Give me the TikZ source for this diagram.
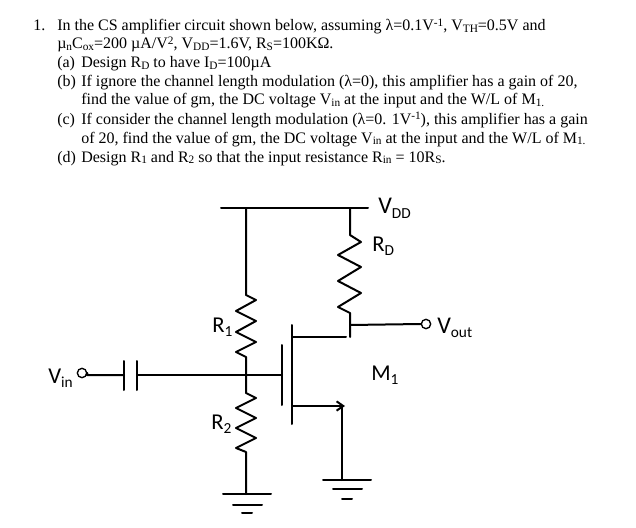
\documentclass[tikz,border=0pt]{standalone}
\usepackage{fontspec}
\setmainfont{Liberation Serif}
\newfontfamily\calib{Carlito}
\usetikzlibrary{arrows.meta}
\newcommand{\sbb}[1]{\raisebox{-1pt}{\fontsize{8.5}{8.5}\selectfont #1}}
\newcommand{\spp}[1]{\raisebox{3.6pt}{\fontsize{8.5}{8.5}\selectfont #1}}
\newcommand{\lbl}[2]{{\calib\fontsize{#1}{#1}\selectfont #2}}
\newcommand{\csb}[1]{\raisebox{-3.4pt}{\fontsize{11.5}{11.5}\selectfont #1}}
\tikzset{
  txt/.style={anchor=base west,inner sep=0pt,font=\fontsize{12}{14}\selectfont},
  clab/.style={anchor=base west,inner sep=0pt},
  wire/.style={line width=1.5pt,line cap=round,line join=round},
  termi/.style={circle,draw,line width=1pt,minimum size=7pt,inner sep=0pt}
}
\begin{document}
\begin{tikzpicture}[x=0.75pt,y=-0.75pt]
\useasboundingbox (0,0) rectangle (636,528);
% question text
\node[txt] (num) at (33,31) {1.};
\node[txt] (l1) at (57,31) {In the CS amplifier circuit shown below, assuming λ=0.1V\spp{-1}, V\sbb{TH}=0.5V and};
\node[txt] (l2) at (57,49) {µ\sbb{n}C\sbb{ox}=200 µA/V\spp{2}, V\sbb{DD}=1.6V, R\sbb{S}=100KΩ.};
\node[txt] (l3a) at (57,68) {(a)};
\node[txt] (l3) at (81,68) {Design R\sbb{D} to have I\sbb{D}=100µA};
\node[txt] (l4a) at (57,87) {(b)};
\node[txt] (l4) at (81,87) {If ignore the channel length modulation (λ=0), this amplifier has a gain of 20,};
\node[txt] (l5) at (81,105) {find the value of gm, the DC voltage V\sbb{in} at the input and the W/L of M\sbb{1.}};
\node[txt] (l6a) at (57,124) {(c)};
\node[txt] (l6) at (81,124) {If consider the channel length modulation (λ=0. 1V\spp{-1}), this amplifier has a gain};
\node[txt] (l7) at (81,143) {of 20, find the value of gm, the DC voltage V\sbb{in} at the input and the W/L of M\sbb{1.}};
\node[txt] (l8a) at (57,162) {(d)};
\node[txt] (l8) at (81,162) {Design R\sbb{1} and R\sbb{2} so that the input resistance R\sbb{in} = 10R\sbb{S}.};
% circuit coordinates
\coordinate (railL) at (221,208);
\coordinate (railR) at (368,208);
\coordinate (r1top) at (246,208);
\coordinate (rdtop) at (350,208);
\coordinate (gatej) at (246,375);
\coordinate (capL) at (124,375);
\coordinate (capR) at (137,375);
\coordinate (gate) at (282,375);
\coordinate (drainj) at (350,325);
\coordinate (drain) at (293,337);
\coordinate (drainc) at (346,337);
\coordinate (source) at (292,406);
\coordinate (sourcee) at (345,406);
\coordinate (gndA) at (246,494);
\coordinate (gndB) at (342,480);
\node[termi] (vinT) at (82,373) {};
\node[termi] (voutT) at (426,324) {};
% wires
\draw[wire] (railL) -- (railR);
\draw[wire] (r1top) -- (246,295) -- (256,300) -- (236,311) -- (256,321) -- (236,332) -- (256,342) -- (236,352) -- (246,357) -- (gatej);
\draw[wire] (gatej) -- (246,393) -- (256,398) -- (236,408) -- (256,418) -- (236,428) -- (256,438) -- (236,448) -- (246,452) -- (gndA);
\draw[wire] (rdtop) -- (350,235) -- (361,242) -- (338,255) -- (361,267) -- (338,281) -- (361,293) -- (338,307) -- (350,313) -- (drainj) -- (350,337);
\draw[wire] (drain) -- (drainc);
\draw[wire] (drainj) -- (voutT.west);
\draw[wire] (vinT.east) -- (87,375) -- (capL);
\draw[wire] (capR) -- (gate);
\draw[wire] (124,361) -- (124,390);
\draw[wire] (137,361) -- (137,390);
\draw[wire] (282,345) -- (282,405);
\draw[wire] (292,325) -- (292,424);
\draw[wire,-{Straight Barb[length=5pt,width=7pt]}] (source) -- (sourcee);
\draw[wire] (342,406) -- (gndB);
% grounds
\draw[wire] (223,494) -- (271,494);
\draw[wire] (233,505) -- (262,505);
\draw[wire] (242,513) -- (252,513);
\draw[wire] (323,480) -- (371,480);
\draw[wire] (333,489) -- (362,489);
\draw[wire] (342,499) -- (352,499);
% labels
\node[clab] (vdd) at (378,214) {\lbl{18}{V\csb{DD}}};
\node[clab] (rd) at (372,251) {\lbl{17}{R\csb{D}}};
\node[clab] (r1) at (212,332) {\lbl{17}{R\csb{1}}};
\node[clab] (r2) at (211,429) {\lbl{17}{R\csb{2}}};
\node[clab] (vin) at (48,383) {\lbl{17}{V\csb{in}}};
\node[clab] (vout) at (437,333) {\lbl{18}{V\csb{out}}};
\node[clab] (m1) at (371,380) {\lbl{17}{M\csb{1}}};
\end{tikzpicture}
\end{document}
